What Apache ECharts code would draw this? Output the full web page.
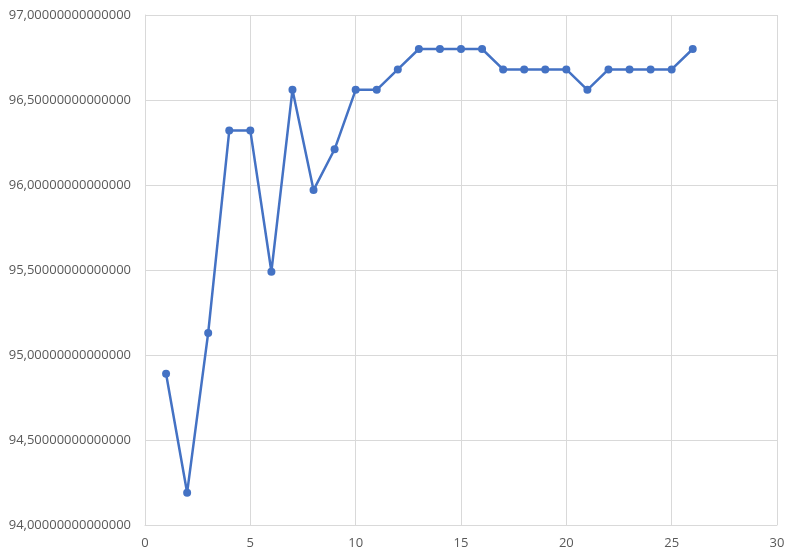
<!DOCTYPE html>
<html>
<head>
<meta charset="utf-8">
<script src="https://cdn.jsdelivr.net/npm/echarts@6/dist/echarts.min.js"></script>
<style>html,body{margin:0;padding:0;background:#fff;}#c{width:796px;height:559px;}</style>
</head>
<body>
<div id="c"></div>
<script>
const xValues = [1,2,3,4,5,6,7,8,9,10,11,12,13,14,15,16,17,18,19,20,21,22,23,24,25,26];
const yValues = [94.89,94.19,95.13,96.32,96.32,95.49,96.56,95.97,96.21,96.56,96.56,96.68,96.80,96.80,96.80,96.80,96.68,96.68,96.68,96.68,96.56,96.68,96.68,96.68,96.68,96.80];
const xTicks = {min: 0, max: 30, interval: 5};
const yTicks = {min: 94, max: 97, interval: 0.5};

const chart = echarts.init(document.getElementById('c'));
chart.setOption({
  animation: false,
  grid: {left: 145, right: 19, top: 15, bottom: 34, containLabel: false},
  xAxis: {
    type: 'value', min: xTicks.min, max: xTicks.max, interval: xTicks.interval,
    axisLine: {show: true, lineStyle: {color: '#d9d9d9', width: 1}},
    axisTick: {show: false},
    splitLine: {show: true, lineStyle: {color: '#d9d9d9', width: 1}},
    axisLabel: {color: '#595959', fontFamily: 'Open Sans', fontSize: 13, margin: 12}
  },
  yAxis: {
    type: 'value', min: yTicks.min, max: yTicks.max, interval: yTicks.interval,
    axisLine: {show: true, lineStyle: {color: '#d9d9d9', width: 1}},
    axisTick: {show: false},
    splitLine: {show: true, lineStyle: {color: '#d9d9d9', width: 1}},
    axisLabel: {color: '#595959', fontFamily: 'Open Sans', fontSize: 13, margin: 14,
      formatter: v => v.toFixed(14).replace('.', ',')}
  },
  series: [{
    type: 'line',
    data: xValues.map((x, i) => [x, yValues[i]]),
    lineStyle: {color: '#4472C4', width: 2.5},
    itemStyle: {color: '#4472C4'},
    symbol: 'circle', symbolSize: 8,
    showSymbol: true
  }]
});
</script>
</body>
</html>
